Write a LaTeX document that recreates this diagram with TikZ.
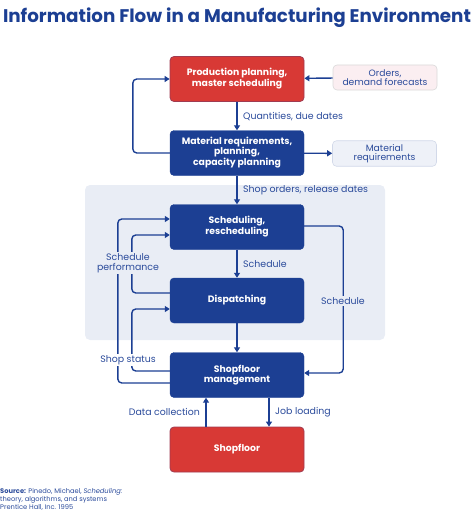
\documentclass[tikz,border=0pt]{standalone}
\usepackage{fontspec}
\setmainfont{Poppins}
\usepackage{tikz}
\usetikzlibrary{arrows.meta}

\definecolor{navy}{HTML}{1C3F93}
\definecolor{ink}{HTML}{2B4B9B}
\definecolor{brick}{HTML}{D83935}
\definecolor{panel}{HTML}{E9EDF5}
\definecolor{blush}{HTML}{FBEEF1}
\definecolor{mist}{HTML}{EEF1F8}

\begin{document}
\begin{tikzpicture}[x=1pt,y=-1pt,
    box/.style={rounded corners=4pt,minimum width=134pt,minimum height=45pt,
      align=center,text=white,font=\fontsize{9.3}{10}\bfseries\selectfont},
    bluebox/.style={box,fill=navy,draw=navy},
    redbox/.style={box,fill=brick,draw=brick!70!navy,line width=0.8pt},
    tag/.style={rounded corners=4pt,minimum width=104pt,minimum height=25pt,
      align=center,text=ink,font=\fontsize{9.2}{9.5}\selectfont,line width=0.6pt},
    lbl/.style={text=ink,font=\fontsize{9.4}{10}\selectfont,align=center,inner sep=1.5pt},
    flow/.style={navy,line width=1.4pt,-{Triangle[length=5pt,width=6pt]},rounded corners=4pt}]
        \useasboundingbox (0,0) rectangle (474,511);
        % title
        \node[text=navy,font=\fontsize{18.3}{20}\bfseries\selectfont] (T) at (237,17.5)
            {Information Flow in a Manufacturing Environment};
        % shaded panel
        \fill[panel,rounded corners=5pt] (85,185) rectangle (385,340);
        % boxes
        \node[redbox] (PP) at (237,79) {Production planning,\\master scheduling};
        \node[bluebox] (MRP) at (237,153) {Material requirements,\\planning,\\capacity planning};
        \node[bluebox] (SR) at (237,227) {Scheduling,\\rescheduling};
        \node[bluebox] (DP) at (237,300.5) {Dispatching};
        \node[bluebox] (SM) at (237,375) {Shopfloor\\management};
        \node[redbox] (SF) at (237,449.5) {Shopfloor};
        \node[tag,fill=blush,draw=black!15] (OD) at (385,77.5) {Orders,\\demand forecasts};
        \node[tag,fill=mist,draw=navy!20] (MR) at (384.5,153.5) {Material\\requirements};
        % main flow
        \draw[flow] (OD) -- (PP);
        \draw[flow] (PP) -- (MRP) node [lbl,pos=0.5,right,xshift=4pt] {Quantities, due dates};
        \draw[flow] (MRP) -- (MR);
        \draw[flow] (MRP.west) -- ++(-37,0) |- (PP.west);
        \draw[flow] (MRP) -- (SR) node [lbl,pos=0.5,right,xshift=4pt] {Shop orders, release dates};
        \draw[flow] (SR) -- (DP) node [lbl,pos=0.5,right,xshift=4pt] {Schedule};
        \draw[flow] (DP) -- (SM);
        \draw[flow] ([yshift=1pt]SR.east) -- ++(39,0) |- ([yshift=2pt]SM.east);
        \node[lbl,fill=panel] (SCH) at (343,301) {Schedule};
        % feedback loops
        \draw[flow] ([yshift=-8pt]SM.west) -- ++(-52,0) |- ([yshift=8pt]SR.west);
        \draw[flow] ([yshift=7.5pt]DP.west) -- ++(-38,0) |- ([yshift=-8pt]SR.west);
        \draw[flow] ([yshift=4pt]SM.west) -- ++(-38,0) |- ([yshift=-8.5pt]DP.west);
        \node[lbl,fill=panel] (SP) at (128,263) {Schedule\\performance};
        \node[lbl,fill=white] (SS) at (128,360) {Shop status};
        % shopfloor
        \draw[flow] ([xshift=32pt]SM.south) -- ([xshift=32pt]SF.north)
            node [lbl,pos=0.5,right,xshift=4pt] {Job loading};
        \draw[flow] ([xshift=-31pt]SF.north) -- ([xshift=-31pt]SM.south)
            node [lbl,pos=0.5,left,xshift=-4pt] {Data collection};
        % source
        \node[anchor=north west,text=ink,align=left,inner sep=0pt,
            font=\fontsize{6.7}{6.9}\selectfont] (SRC) at (0,488.5)
            {\textbf{Source:} Pinedo, Michael, \textit{Scheduling:}\\theory, algorithms, and systems\\Prentice Hall, Inc. 1995};
\end{tikzpicture}
\end{document}
